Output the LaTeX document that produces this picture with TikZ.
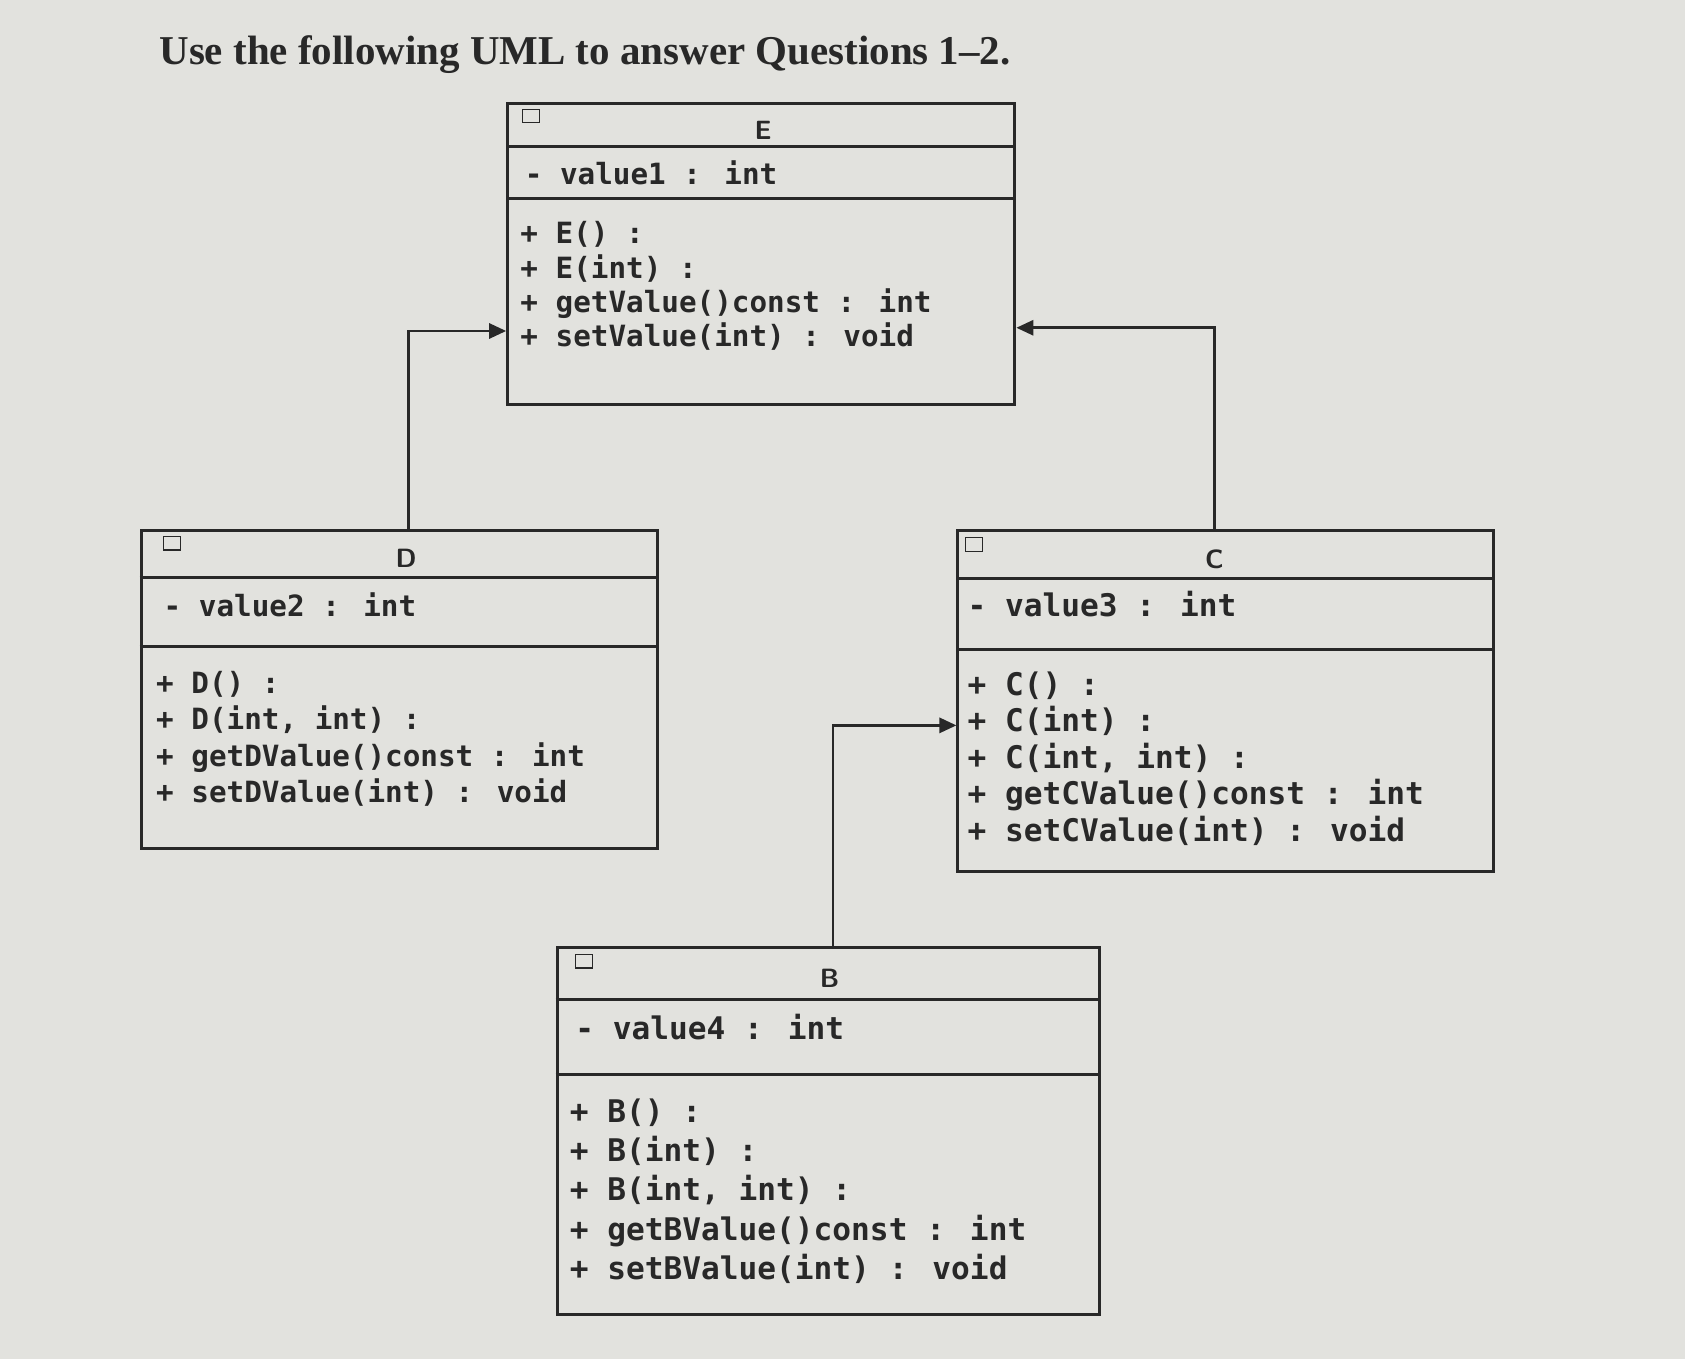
\documentclass[tikz,border=0pt]{standalone}
\usepackage{fontspec}
\setmainfont{Liberation Serif}
\newfontfamily\umlfont{DejaVu Sans Mono}
\usetikzlibrary{arrows.meta}
\definecolor{paper}{RGB}{226,226,222}
\definecolor{ink}{RGB}{40,40,40}
\tikzset{
 cls/.style={draw=ink,line width=1.6pt,anchor=north west,inner sep=0pt},
 sep/.style={draw=ink,line width=1.6pt},
 txt/.style={anchor=base west,inner sep=0pt,text=ink,font=\umlfont\bfseries\fontsize{15.5}{18}\selectfont},
 txtb/.style={txt,font=\umlfont\bfseries\fontsize{16.5}{19}\selectfont},
 ttl/.style={anchor=base,inner sep=0pt,text=ink,font=\sffamily\bfseries\fontsize{14}{16}\selectfont},
 inh/.style={draw=ink,line width=1.4pt,-{Triangle[length=9pt,width=8pt]}},
 icon/.style={draw=ink,line width=0.6pt,minimum width=9pt,minimum height=7pt,inner sep=0pt,anchor=north west}
}
\begin{document}
\begin{tikzpicture}[x=0.02cm,y=-0.02cm]
\fill[paper] (0,0) rectangle (1568,1265);
\useasboundingbox (0,0) rectangle (1568,1265);
\node[anchor=base west,inner sep=0pt,font=\bfseries\fontsize{21.7}{26}\selectfont,text=ink] (title) at (148,60) {Use the following UML to answer Questions 1--2.};
% E
\node[cls,minimum width=472*0.02cm,minimum height=280*0.02cm] (E) at (471,95) {};
\draw[sep] (471,136) -- (943,136); \draw[sep] (471,185) -- (943,185);
\node[icon] (Ei) at (486,101) {};
\node[ttl] (Et) at (710,130) {E};
\node[txt] (E1) at (488,172) {- value1 : int};
\node[txt] (E2) at (484,227) {+ E() :};
\node[txt] (E3) at (484,259) {+ E(int) :};
\node[txt] (E4) at (484,291) {+ getValue()const : int};
\node[txt] (E5) at (484,322) {+ setValue(int) : void};
% D
\node[cls,minimum width=480*0.02cm,minimum height=296*0.02cm] (D) at (130,492) {};
\draw[sep] (130,537) -- (610,537); \draw[sep] (130,602) -- (610,602);
\node[icon] (Di) at (152,499) {};
\node[ttl] (Dt) at (378,528) {D};
\node[txt] (D1) at (152,574) {- value2 : int};
\node[txt] (D2) at (145,645) {+ D() :};
\node[txt] (D3) at (145,679) {+ D(int, int) :};
\node[txt] (D4) at (145,713) {+ getDValue()const : int};
\node[txt] (D5) at (145,747) {+ setDValue(int) : void};
% C
\node[cls,minimum width=498*0.02cm,minimum height=318*0.02cm] (C) at (890,492) {};
\draw[sep] (890,538) -- (1388,538); \draw[sep] (890,604) -- (1388,604);
\node[icon] (Ci) at (898,500) {};
\node[ttl] (Ct) at (1130,529) {C};
\node[txtb] (C1) at (900,574) {- value3 : int};
\node[txtb] (C2) at (900,647) {+ C() :};
\node[txtb] (C3) at (900,681) {+ C(int) :};
\node[txtb] (C4) at (900,715) {+ C(int, int) :};
\node[txtb] (C5) at (900,749) {+ getCValue()const : int};
\node[txtb] (C6) at (900,783) {+ setCValue(int) : void};
% B
\node[cls,minimum width=505*0.02cm,minimum height=342*0.02cm] (B) at (517,880) {};
\draw[sep] (517,930) -- (1022,930); \draw[sep] (517,1000) -- (1022,1000);
\node[icon] (Bi) at (535,888) {};
\node[ttl] (Bt) at (772,919) {B};
\node[txtb] (B1) at (535,967) {- value4 : int};
\node[txtb] (B2) at (530,1045) {+ B() :};
\node[txtb] (B3) at (530,1081) {+ B(int) :};
\node[txtb] (B4) at (530,1117) {+ B(int, int) :};
\node[txtb] (B5) at (530,1154) {+ getBValue()const : int};
\node[txtb] (B6) at (530,1191) {+ setBValue(int) : void};
% connectors
\draw[inh] (D.north -| 380,0) |- (E.west |- 0,308);
\draw[inh] (C.north -| 1130,0) |- (E.east |- 0,305);
\draw[inh] (B.north -| 775,0) |- (C.west |- 0,675);
\end{tikzpicture}
\end{document}
